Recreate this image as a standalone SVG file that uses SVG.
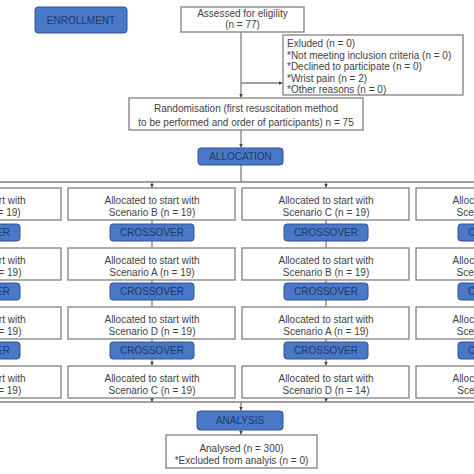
<svg xmlns="http://www.w3.org/2000/svg" width="474" height="474" viewBox="0 0 474 474">
<style>
text{font-family:"Liberation Sans",Arial,sans-serif;font-size:10px;fill:#3f3f3f}
.box{fill:#fff;stroke:#808080;stroke-width:1.3}
.blue{fill:#4a78c8;stroke:#2f528f;stroke-width:1}
.bt{fill:#1f3864;text-anchor:middle}
.c{text-anchor:middle}
.ln{fill:none;stroke:#808080;stroke-width:1.3}
.ar{fill:none;stroke:#808080;stroke-width:1.3;marker-end:url(#ah)}
</style>
<defs>
<marker id="ah" markerUnits="userSpaceOnUse" markerWidth="5" markerHeight="5" refX="4" refY="2.5" orient="auto">
<path d="M0,0.5 L4,2.5 L0,4.5 Z" fill="#404040"/>
</marker>
</defs>
<rect width="474" height="474" fill="#fff"/>
<g id="connectors">
<path class="ar" d="M241,32 V97.5"/>
<path class="ar" d="M241,83 H282.5"/>
<path class="ar" d="M241,130 V147.5"/>
<path class="ln" d="M241,165 V182 M0,182 H474"/>
<path class="ar" d="M-22,182 V187.5"/>
<path class="ar" d="M152,182 V187.5"/>
<path class="ar" d="M326,182 V187.5"/>
<path class="ar" d="M500,182 V187.5"/>
<path class="ln" d="M152,220 V224 M152,280 V283 M152,339 V342 M326,220 V224 M326,280 V283 M326,339 V342 M-22,220 V224 M-22,280 V283 M-22,339 V342 M500,220 V224 M500,280 V283 M500,339 V342"/>
<path class="ar" d="M152,241 V247.5 M152,300 V306.5 M152,359 V365.5"/>
<path class="ar" d="M326,241 V247.5 M326,300 V306.5 M326,359 V365.5"/>
<path class="ar" d="M-22,241 V247.5 M-22,300 V306.5 M-22,359 V365.5"/>
<path class="ar" d="M500,241 V247.5 M500,300 V306.5 M500,359 V365.5"/>
<path class="ar" d="M152,398 V402"/>
<path class="ar" d="M326,398 V402"/>
<path class="ln" d="M0,402 H474"/>
<path class="ar" d="M241,402 V410.5"/>
<path class="ar" d="M241,430 V434.5"/>
</g>
<g id="enrollment"><rect class="blue" x="35" y="7" width="92" height="26" rx="3"/><text class="bt" x="81" y="23.5">ENROLLMENT</text></g>
<g id="assessed"><rect class="box" x="181" y="7" width="123" height="25"/><text class="c" x="242.5" y="17">Assessed for eligility</text><text class="c" x="242.5" y="28">(n = 77)</text></g>
<g id="excluded"><rect class="box" x="283" y="35" width="180" height="60"/>
<text x="287" y="47">Exluded (n = 0)</text>
<text x="287" y="58.5">*Not meeting inclusion criteria (n = 0)</text>
<text x="287" y="70">*Declined to participate (n = 0)</text>
<text x="287" y="81.5">*Wrist pain (n = 2)</text>
<text x="287" y="93">*Other reasons (n = 0)</text></g>
<g id="randomisation"><rect class="box" x="129" y="98" width="234" height="32"/><text class="c" x="246" y="112">Randomisation (first resuscitation method</text><text class="c" x="246" y="126">to be performed and order of participants) n = 75</text></g>
<g id="allocation"><rect class="blue" x="198" y="148" width="85" height="17" rx="3"/><text class="bt" x="240.5" y="160">ALLOCATION</text></g>
<g id="a1"><rect class="box" x="-106" y="188" width="167" height="32"/><text class="c" x="-22" y="203.5">Allocated to start with</text><text class="c" x="-22" y="215.5">Scenario A (n = 19)</text></g>
<g id="b1"><rect class="box" x="68" y="188" width="167" height="32"/><text class="c" x="152" y="203.5">Allocated to start with</text><text class="c" x="152" y="215.5">Scenario B (n = 19)</text></g>
<g id="c1"><rect class="box" x="242" y="188" width="167" height="32"/><text class="c" x="326" y="203.5">Allocated to start with</text><text class="c" x="326" y="215.5">Scenario C (n = 19)</text></g>
<g id="d1"><rect class="box" x="416" y="188" width="167" height="32"/><text class="c" x="500" y="203.5">Allocated to start with</text><text class="c" x="500" y="215.5">Scenario D (n = 19)</text></g>
<g id="xa1"><rect class="blue" x="-64" y="224" width="84" height="17" rx="3"/><text class="bt" x="-22" y="236">CROSSOVER</text></g>
<g id="xb1"><rect class="blue" x="110" y="224" width="84" height="17" rx="3"/><text class="bt" x="152" y="236">CROSSOVER</text></g>
<g id="xc1"><rect class="blue" x="284" y="224" width="84" height="17" rx="3"/><text class="bt" x="326" y="236">CROSSOVER</text></g>
<g id="xd1"><rect class="blue" x="458" y="224" width="84" height="17" rx="3"/><text class="bt" x="500" y="236">CROSSOVER</text></g>
<g id="a2"><rect class="box" x="-106" y="248" width="167" height="32"/><text class="c" x="-22" y="263.5">Allocated to start with</text><text class="c" x="-22" y="275.5">Scenario D (n = 19)</text></g>
<g id="b2"><rect class="box" x="68" y="248" width="167" height="32"/><text class="c" x="152" y="263.5">Allocated to start with</text><text class="c" x="152" y="275.5">Scenario A (n = 19)</text></g>
<g id="c2"><rect class="box" x="242" y="248" width="167" height="32"/><text class="c" x="326" y="263.5">Allocated to start with</text><text class="c" x="326" y="275.5">Scenario B (n = 19)</text></g>
<g id="d2"><rect class="box" x="416" y="248" width="167" height="32"/><text class="c" x="500" y="263.5">Allocated to start with</text><text class="c" x="500" y="275.5">Scenario C (n = 19)</text></g>
<g id="xa2"><rect class="blue" x="-64" y="283" width="84" height="17" rx="3"/><text class="bt" x="-22" y="295">CROSSOVER</text></g>
<g id="xb2"><rect class="blue" x="110" y="283" width="84" height="17" rx="3"/><text class="bt" x="152" y="295">CROSSOVER</text></g>
<g id="xc2"><rect class="blue" x="284" y="283" width="84" height="17" rx="3"/><text class="bt" x="326" y="295">CROSSOVER</text></g>
<g id="xd2"><rect class="blue" x="458" y="283" width="84" height="17" rx="3"/><text class="bt" x="500" y="295">CROSSOVER</text></g>
<g id="a3"><rect class="box" x="-106" y="307" width="167" height="32"/><text class="c" x="-22" y="322.5">Allocated to start with</text><text class="c" x="-22" y="334.5">Scenario C (n = 19)</text></g>
<g id="b3"><rect class="box" x="68" y="307" width="167" height="32"/><text class="c" x="152" y="322.5">Allocated to start with</text><text class="c" x="152" y="334.5">Scenario D (n = 19)</text></g>
<g id="c3"><rect class="box" x="242" y="307" width="167" height="32"/><text class="c" x="326" y="322.5">Allocated to start with</text><text class="c" x="326" y="334.5">Scenario A (n = 19)</text></g>
<g id="d3"><rect class="box" x="416" y="307" width="167" height="32"/><text class="c" x="500" y="322.5">Allocated to start with</text><text class="c" x="500" y="334.5">Scenario B (n = 19)</text></g>
<g id="xa3"><rect class="blue" x="-64" y="342" width="84" height="17" rx="3"/><text class="bt" x="-22" y="354">CROSSOVER</text></g>
<g id="xb3"><rect class="blue" x="110" y="342" width="84" height="17" rx="3"/><text class="bt" x="152" y="354">CROSSOVER</text></g>
<g id="xc3"><rect class="blue" x="284" y="342" width="84" height="17" rx="3"/><text class="bt" x="326" y="354">CROSSOVER</text></g>
<g id="xd3"><rect class="blue" x="458" y="342" width="84" height="17" rx="3"/><text class="bt" x="500" y="354">CROSSOVER</text></g>
<g id="a4"><rect class="box" x="-106" y="366" width="167" height="32"/><text class="c" x="-22" y="381.5">Allocated to start with</text><text class="c" x="-22" y="393.5">Scenario B (n = 19)</text></g>
<g id="b4"><rect class="box" x="68" y="366" width="167" height="32"/><text class="c" x="152" y="381.5">Allocated to start with</text><text class="c" x="152" y="393.5">Scenario C (n = 19)</text></g>
<g id="c4"><rect class="box" x="242" y="366" width="167" height="32"/><text class="c" x="326" y="381.5">Allocated to start with</text><text class="c" x="326" y="393.5">Scenario D (n = 14)</text></g>
<g id="d4"><rect class="box" x="416" y="366" width="167" height="32"/><text class="c" x="500" y="381.5">Allocated to start with</text><text class="c" x="500" y="393.5">Scenario A (n = 19)</text></g>
<g id="analysis"><rect class="blue" x="197" y="411" width="86" height="19" rx="3"/><text class="bt" x="240" y="424">ANALYSIS</text></g>
<g id="analysed"><rect class="box" x="166" y="435" width="151" height="33"/><text class="c" x="241.5" y="452">Analysed (n = 300)</text><text class="c" x="241.5" y="463.5">*Excluded from analyis (n = 0)</text></g>
</svg>
